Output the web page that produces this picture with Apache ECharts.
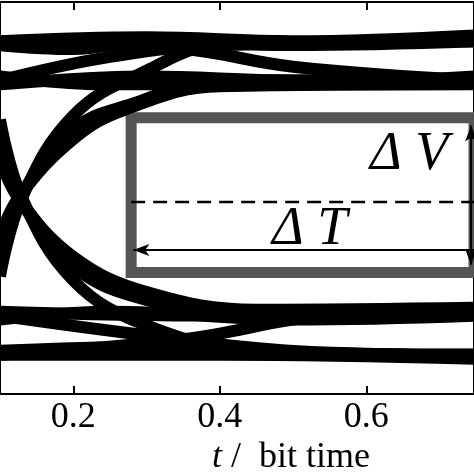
<!DOCTYPE html><html><head><meta charset="utf-8"><script src="https://cdn.jsdelivr.net/npm/echarts@6/dist/echarts.min.js"></script></head><body style="margin:0"><div id="c" style="width:474px;height:474px"></div><script>
const tickLabels=[0.2,0.4,0.6];
const traces=[
[[0.1,0.8],[0.3,0.82],[0.5,0.8],[0.75,0.83]],
[[0.1,0.78],[0.2,0.76],[0.3,0.8],[0.5,0.78],[0.75,0.8]],
[[0.1,0.8],[0.35,0.76],[0.5,0.67],[0.75,0.6]],
[[0.1,0.6],[0.25,0.72],[0.4,0.78],[0.75,0.8]],
[[0.1,0.58],[0.3,0.62],[0.5,0.6],[0.75,0.6]],
[[0.1,0.62],[0.25,0.58],[0.45,0.58],[0.75,0.62]],
[[0.1,-0.3],[0.127,0],[0.2,0.35],[0.28,0.48],[0.4,0.6],[0.75,0.6]],
[[0.1,-0.2],[0.125,0],[0.2,0.3],[0.27,0.45],[0.4,0.57],[0.75,0.58]],
[[0.1,-0.4],[0.13,0],[0.2,0.42],[0.3,0.65],[0.4,0.78],[0.75,0.8]],
[[0.1,0.3],[0.127,0],[0.2,-0.35],[0.3,-0.52],[0.45,-0.6],[0.75,-0.58]],
[[0.1,0.2],[0.125,0],[0.2,-0.3],[0.3,-0.48],[0.45,-0.57],[0.75,-0.56]],
[[0.1,0.4],[0.13,0],[0.2,-0.42],[0.3,-0.65],[0.45,-0.78],[0.75,-0.8]],
[[0.1,-0.58],[0.4,-0.6],[0.75,-0.58]],
[[0.1,-0.62],[0.25,-0.58],[0.5,-0.62],[0.75,-0.6]],
[[0.1,-0.8],[0.4,-0.8],[0.75,-0.82]],
[[0.1,-0.78],[0.3,-0.76],[0.55,-0.8],[0.75,-0.8]],
[[0.1,-0.6],[0.3,-0.7],[0.5,-0.78],[0.75,-0.8]],
[[0.1,-0.8],[0.35,-0.72],[0.55,-0.6],[0.75,-0.58]]
];
const box={x0:0.279,y0:-0.38,y1:0.41};
const thresh=[[0.279,-0.02],[0.75,-0.02]];
const dT=[[0.282,-0.265],[0.75,-0.265]];
const dV=[[0.743,0.37],[0.743,-0.34]];
const serif='Liberation Serif';
const series=traces.map(d=>({type:'line',data:d,smooth:0.4,symbol:'none',lineStyle:{color:'#000',width:12},silent:true}));
series.push({type:'line',data:thresh,symbol:'none',silent:true,lineStyle:{type:[14,8],width:2.5,color:'#000'},z:5,
 markArea:{silent:true,itemStyle:{color:'rgba(0,0,0,0)',borderColor:'#555',borderWidth:11},data:[[{coord:[box.x0,box.y1]},{coord:[0.8,box.y0]}]]}});
const arrow=(p,rot)=>({value:p,symbol:'arrow',symbolSize:[9,16],symbolRotate:rot,symbolOffset:[0,0]});
series.push({type:'line',silent:true,z:6,showSymbol:true,symbol:'none',itemStyle:{color:'#000'},lineStyle:{width:2,color:'#000'},
 data:[arrow(dT[0],90),{value:dT[1],symbol:'none'}]});
series.push({type:'line',silent:true,z:6,showSymbol:true,symbol:'none',itemStyle:{color:'#000'},lineStyle:{width:2,color:'#000'},
 data:[arrow(dV[0],0),arrow(dV[1],180)]});
const c=echarts.init(document.getElementById('c'));
c.setOption({animation:false,
grid:{left:0,right:0,top:2,bottom:80,outerBoundsMode:'none',containLabel:false,show:true,borderColor:'#000',borderWidth:2},
xAxis:[{type:'value',min:0.1,max:0.747,splitLine:{show:false},axisLine:{onZero:false,lineStyle:{color:'#000',width:2}},
 axisTick:{inside:true,length:8,lineStyle:{color:'#000',width:2},customValues:tickLabels},
 axisLabel:{margin:6,fontFamily:serif,fontSize:36,color:'#000',customValues:tickLabels,formatter:v=>v.toFixed(1)}},
 {type:'value',position:'top',min:0.1,max:0.747,splitLine:{show:false},axisLine:{show:false,onZero:false},axisLabel:{show:false},
 axisTick:{inside:true,length:8,lineStyle:{color:'#000',width:2},customValues:tickLabels}}],
yAxis:{type:'value',min:-1,max:1,show:false},
graphic:[{type:'text',left:370,top:128,z:10,style:{text:'Δ V',font:'italic 54px "Liberation Serif"',fill:'#000'}},
 {type:'text',left:272,top:203,z:10,style:{text:'Δ T',font:'italic 54px "Liberation Serif"',fill:'#000'}},
 {type:'text',left:212,top:440,z:10,style:{text:'{i|t} /  bit time',font:'36px "Liberation Serif"',fill:'#000',rich:{i:{font:'italic 36px "Liberation Serif"'}}}}],
series});
</script></body></html>
